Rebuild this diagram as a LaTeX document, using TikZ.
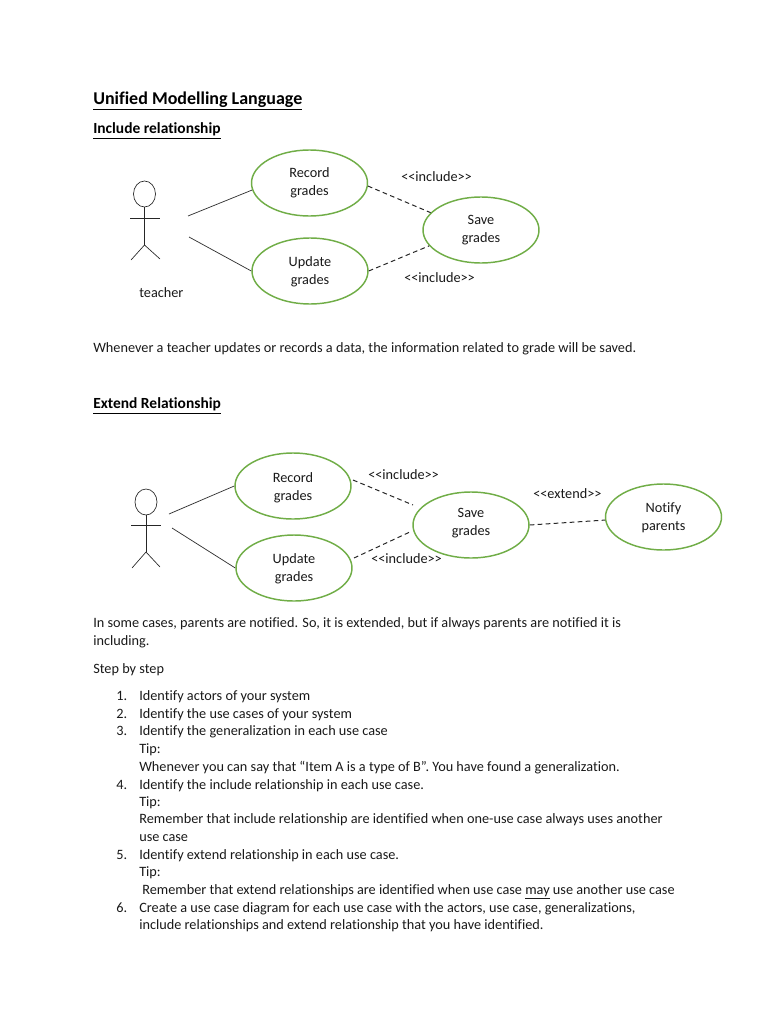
\documentclass[tikz,border=0pt]{standalone}
\usepackage{fontspec}
\setmainfont[Ligatures=NoCommon]{Carlito}
\usepackage{xcolor}
\usetikzlibrary{shapes.geometric}
\definecolor{casegreen}{RGB}{112,173,71}
\definecolor{inktext}{RGB}{25,25,25}
\newcommand{\caseline}[2]{\raisebox{#1}[\ht\strutbox][\dp\strutbox]{\strut #2}}
\tikzstyle{usecase} = [ellipse, draw=casegreen, line width=1.1pt, minimum width=87pt, minimum height=49.5pt, inner sep=0pt, align=center, text=inktext, font=\fontsize{10.7}{13.5}\selectfont]
\tikzstyle{txt} = [anchor=base west, inner sep=0pt, text=inktext, font=\fontsize{10.7}{13.5}\selectfont]
\tikzstyle{heading} = [anchor=base west, inner sep=0pt, text=black, font=\fontsize{11.6}{13.5}\selectfont\bfseries]
\tikzstyle{assoc} = [line width=0.55pt, draw=black!80]
\tikzstyle{dep} = [line width=0.75pt, draw=black!85, dash pattern=on 3.5pt off 2.5pt]
\tikzstyle{limb} = [line width=0.5pt, draw=black!85]

\begin{document}
\begin{tikzpicture}[x=0.75pt,y=-0.75pt]
    \useasboundingbox (0,0) rectangle (768,1024);

    % Headings
    \node[heading, font=\fontsize{13.5}{15}\selectfont\bfseries] (title) at (93,104) {\underline{Unified Modelling Language}};
    \node[heading] (inclhead) at (93,133.5) {\underline{Include relationship}};

    % First diagram: actor
    \draw[limb] (144.5,194) ellipse (11 and 13);
    \draw[limb] (144.5,207) -- (144.5,245);
    \draw[limb] (130,218) -- (160,218);
    \draw[limb] (131,260) -- (144.5,245) -- (160,259);
    \node[txt] (teacher) at (139,297.5) {teacher};

    % First diagram: use cases
    \node[usecase] (recA) at (309.5,183) {\caseline{0pt}{Record}\\\caseline{0pt}{grades}};
    \node[usecase] (updA) at (310,271) {\caseline{-0.7pt}{Update}\\\caseline{-0.7pt}{grades}};
    \node[usecase] (saveA) at (481,230) {\caseline{0pt}{Save}\\\caseline{0pt}{grades}};
    \coordinate (handA) at (188,216);
    \coordinate (footA) at (189,237);

    \draw[assoc] (handA) -- (recA.187);
    \draw[assoc] (footA) -- (updA.180);
    \draw[dep] (recA.-3) -- (saveA.161);
    \draw[dep] (updA.0) -- (saveA.197);
    \node[txt] (inclA) at (401,181) {<{}<include>{}>};
    \node[txt] (inclB) at (404,282) {<{}<include>{}>};

    \node[txt] (para1) at (93,352) {Whenever a teacher updates or records a data, the information related to grade will be saved.};
    \node[heading] (exthead) at (93,408.5) {\underline{Extend Relationship}};

    % Second diagram: actor
    \draw[limb] (146,502) ellipse (11 and 13);
    \draw[limb] (146,515) -- (146,552);
    \draw[limb] (131,525) -- (161,525);
    \draw[limb] (132,568) -- (146,552) -- (160,567);

    % Second diagram: use cases
    \node[usecase] (recB) at (293,486) {\caseline{-1.4pt}{Record}\\\caseline{-1.4pt}{grades}};
    \node[usecase] (updB) at (294,568) {\caseline{-0.4pt}{Update}\\\caseline{-0.4pt}{grades}};
    \node[usecase] (saveB) at (471,525) {\caseline{1.4pt}{Save}\\\caseline{1.4pt}{grades}};
    \node[usecase] (notify) at (663.5,517) {\caseline{-1pt}{Notify}\\\caseline{-1pt}{parents}};
    \coordinate (handB) at (169,514);
    \coordinate (footB) at (172,528);
    \coordinate (dashB) at (353,480);
    \coordinate (dashC) at (354,558);
    \coordinate (dashD) at (413,505);
    \coordinate (dashE) at (412,531);

    \draw[assoc] (handB) -- (recB.180);
    \draw[assoc] (footB) -- (updB.180);
    \draw[dep] (dashB) -- (dashD);
    \draw[dep] (dashC) -- (dashE);
    \draw[dep] (saveB.0) -- (notify.183);
    \node[txt] (inclC) at (368,479) {<{}<include>{}>};
    \node[txt] (inclD) at (371,563) {<{}<include>{}>};
    \node[txt] (extA) at (533,498) {<{}<extend>{}>};

    % Body text
    \node[txt] (para2) at (93,627) {In some cases, parents are notified. So, it is extended, but if always parents are notified it is};
    \node[txt] (para3) at (93,645) {including.};
    \node[txt] (steps) at (93,673) {Step by step};

    \node[txt] (numA) at (116,700) {1.};
    \node[txt] (itemA) at (139,700) {Identify actors of your system};
    \node[txt] (numB) at (116,718) {2.};
    \node[txt] (itemB) at (139,718) {Identify the use cases of your system};
    \node[txt] (numC) at (116,735) {3.};
    \node[txt] (itemC) at (139,735) {Identify the generalization in each use case};
    \node[txt] (tipC) at (139,753) {Tip:};
    \node[txt] (lineC) at (139,771) {Whenever you can say that “Item A is a type of B”. You have found a generalization.};
    \node[txt] (numD) at (116,789) {4.};
    \node[txt] (itemD) at (139,789) {Identify the include relationship in each use case.};
    \node[txt] (tipD) at (139,806) {Tip:};
    \node[txt] (lineD) at (139,823) {Remember that include relationship are identified when one-use case always uses another};
    \node[txt] (lineE) at (139,841) {use case};
    \node[txt] (numE) at (116,859) {5.};
    \node[txt] (itemE) at (139,859) {Identify extend relationship in each use case.};
    \node[txt] (tipE) at (139,876) {Tip:};
    \node[txt] (lineF) at (142,894) {Remember that extend relationships are identified when use case \underline{may} use another use case};
    \node[txt] (numF) at (116,912) {6.};
    \node[txt] (itemF) at (139,912) {Create a use case diagram for each use case with the actors, use case, generalizations,};
    \node[txt] (lineG) at (139,929) {include relationships and extend relationship that you have identified.};
\end{tikzpicture}
\end{document}
